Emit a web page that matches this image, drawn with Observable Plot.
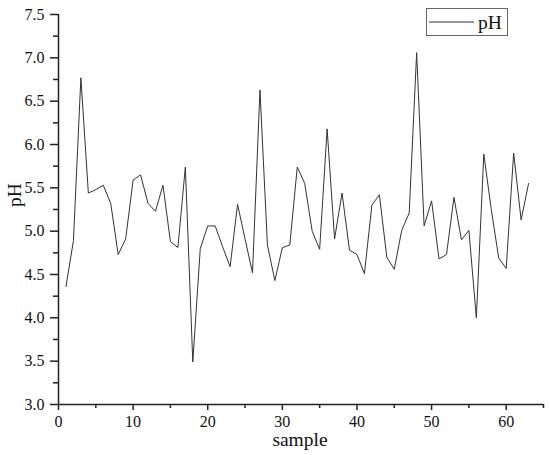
<!DOCTYPE html>
<html>
<head>
<meta charset="utf-8">
<script src="https://cdn.jsdelivr.net/npm/d3@7"></script>
<script src="https://cdn.jsdelivr.net/npm/@observablehq/plot@0.6"></script>
<style>
  html, body { margin: 0; padding: 0; background: #fff; }
  #chart { width: 550px; height: 455px; }
  #chart svg, #chart svg text { font-family: 'Liberation Serif', 'Times New Roman', serif !important; }
</style>
</head>
<body>
<div id="chart"></div>
<script>
const samples = d3.range(1, 64);
const phValues = [
  4.36, 4.89, 6.77, 5.44, 5.48, 5.53, 5.32, 4.73, 4.91, 5.59,
  5.65, 5.32, 5.23, 5.53, 4.88, 4.81, 5.74, 3.49, 4.80, 5.06,
  5.06, 4.82, 4.59, 5.31, 4.91, 4.52, 6.63, 4.84, 4.43, 4.81,
  4.84, 5.74, 5.55, 5.00, 4.79, 6.18, 4.91, 5.44, 4.78, 4.73,
  4.51, 5.30, 5.42, 4.70, 4.56, 5.01, 5.21, 7.06, 5.06, 5.35,
  4.68, 4.73, 5.39, 4.90, 5.01, 4.00, 5.89, 5.25, 4.69, 4.57,
  5.90, 5.13, 5.55
];
const xMajorTicks = [0, 10, 20, 30, 40, 50, 60];
const xMinorTicks = [5, 15, 25, 35, 45, 55, 65];
const yMajorTicks = [3.0, 3.5, 4.0, 4.5, 5.0, 5.5, 6.0, 6.5, 7.0, 7.5];
const yMinorTicks = [3.25, 3.75, 4.25, 4.75, 5.25, 5.75, 6.25, 6.75, 7.25];
const seriesName = "pH";
const xLabel = "sample";
const yLabel = "pH";

const data = samples.map((s, i) => ({sample: s, pH: phValues[i]}));

const font = "'Liberation Serif', 'Times New Roman', serif";

const chart = Plot.plot({
  width: 550,
  height: 455,
  marginLeft: 58,
  marginRight: 7,
  marginTop: 14,
  marginBottom: 51,
  style: {fontFamily: font, fontSize: "16px", color: "#111", background: "#fff"},
  x: {domain: [0, 65]},
  y: {domain: [3.0, 7.5]},
  marks: [
    Plot.axisX({ticks: xMinorTicks, tickSize: 4, text: null, label: null, strokeWidth: 1.5, stroke: "#222"}),
    Plot.axisX({ticks: xMajorTicks, tickSize: 6, tickPadding: 5, label: null, strokeWidth: 1.5, stroke: "#222", fill: "#111", fontSize: 16, fontFamily: font}),
    Plot.axisY({ticks: yMinorTicks, tickSize: 5, text: null, label: null, strokeWidth: 1.5, stroke: "#222"}),
    Plot.axisY({ticks: yMajorTicks, tickSize: 8, tickPadding: 6, tickFormat: d3.format(".1f"), label: null, strokeWidth: 1.5, stroke: "#222", fill: "#111", fontSize: 16, fontFamily: font}),
    Plot.ruleX([0], {stroke: "#222", strokeWidth: 1.5}),
    Plot.ruleY([3.0], {stroke: "#222", strokeWidth: 1.5}),
    Plot.line(data, {x: "sample", y: "pH", stroke: "#333", strokeWidth: 1})
  ]
});

const svg = d3.select(chart);
// axis titles
svg.append("text")
  .attr("x", 300).attr("y", 446)
  .attr("text-anchor", "middle")
  .attr("font-family", font).attr("font-size", 19.5).attr("fill", "#111")
  .text(xLabel);
svg.append("text")
  .attr("transform", "translate(21,195) rotate(-90)")
  .attr("text-anchor", "middle")
  .attr("font-family", font).attr("font-size", 19.5).attr("fill", "#111")
  .text(yLabel);
// legend
const lg = svg.append("g");
lg.append("rect")
  .attr("x", 426.5).attr("y", 8.5).attr("width", 81).attr("height", 27)
  .attr("fill", "#fff").attr("stroke", "#666").attr("stroke-width", 1);
lg.append("line")
  .attr("x1", 429).attr("x2", 474).attr("y1", 22).attr("y2", 22)
  .attr("stroke", "#333").attr("stroke-width", 1);
lg.append("text")
  .attr("x", 478).attr("y", 29)
  .attr("text-anchor", "start")
  .attr("font-family", font).attr("font-size", 19.5).attr("fill", "#111")
  .text(seriesName);

document.getElementById("chart").appendChild(chart);
</script>
</body>
</html>
